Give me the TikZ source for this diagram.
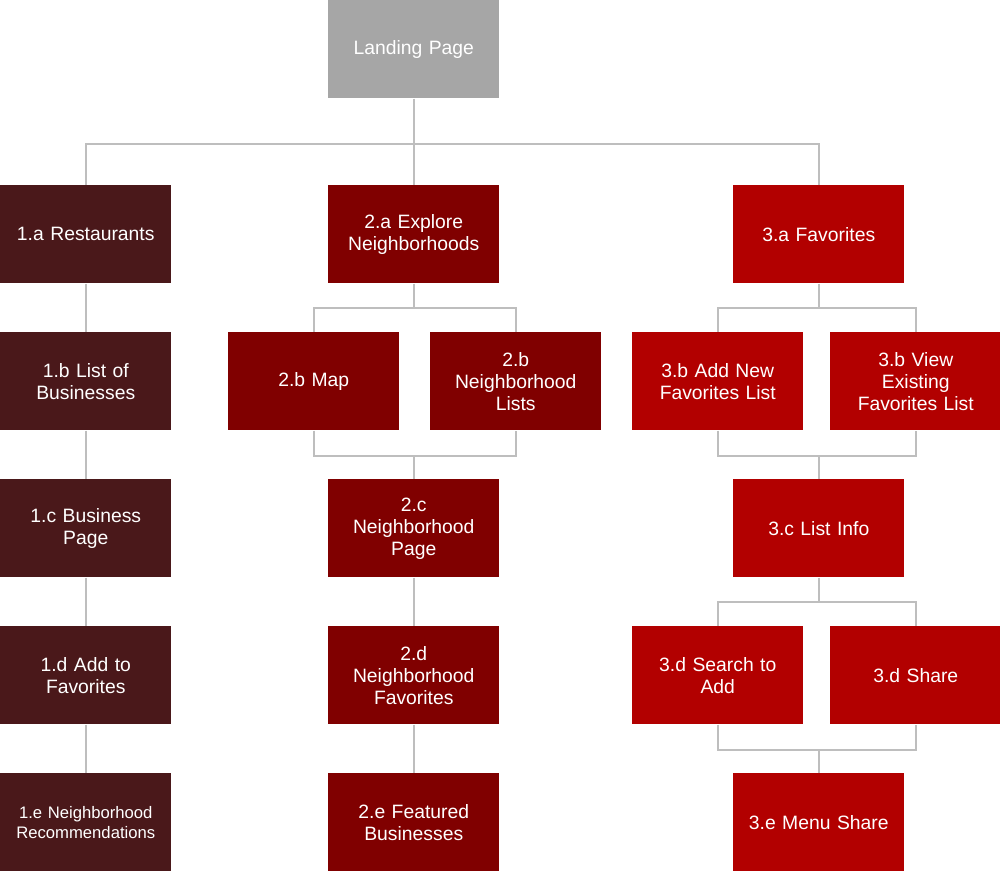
\documentclass[tikz,border=0pt]{standalone}
\usepackage{fontspec}
\setmainfont{Liberation Sans}
\begin{document}
\begin{tikzpicture}[x=0.75pt,y=-0.75pt,
  box/.style={anchor=north west,minimum width=128.25pt,minimum height=73.5pt,inner sep=0pt,text=white,align=center,text width=120pt,font=\fontsize{14.5}{16.5}\selectfont},
  gbox/.style={box,fill=gray!70},
  c1/.style={box,fill={rgb,255:red,74;green,24;blue,26}},
  c2/.style={box,fill={rgb,255:red,128;green,0;blue,0}},
  c3/.style={box,fill={rgb,255:red,178;green,0;blue,0}},
  ln/.style={draw={rgb,255:red,190;green,190;blue,190},line width=1.5pt}]
\useasboundingbox (0,0) rectangle (1000,872);
\node[gbox] (L) at (328,0) {Landing Page};
\node[c1] (a1) at (0,185) {1.a Restaurants};
\node[c1] (b1) at (0,332) {1.b List of\\Businesses};
\node[c1] (cc1) at (0,479) {1.c Business\\Page};
\node[c1] (d1) at (0,626) {1.d Add to\\Favorites};
\node[c1,font=\fontsize{12.5}{15}\selectfont] (e1) at (0,773) {1.e Neighborhood\\Recommendations};
\node[c2] (a2) at (328,185) {2.a Explore\\Neighborhoods};
\node[c2] (b2m) at (228,332) {2.b Map};
\node[c2] (b2n) at (430,332) {2.b\\Neighborhood\\Lists};
\node[c2] (cc2) at (328,479) {2.c\\Neighborhood\\Page};
\node[c2] (d2) at (328,626) {2.d\\Neighborhood\\Favorites};
\node[c2] (e2) at (328,773) {2.e Featured\\Businesses};
\node[c3] (a3) at (733,185) {3.a Favorites};
\node[c3] (b3a) at (632,332) {3.b Add New\\Favorites List};
\node[c3] (b3v) at (830,332) {3.b View\\Existing\\Favorites List};
\node[c3] (cc3) at (733,479) {3.c List Info};
\node[c3] (d3s) at (632,626) {3.d Search to\\Add};
\node[c3] (d3h) at (830,626) {3.d Share};
\node[c3] (e3) at (733,773) {3.e Menu Share};
\begin{scope}[on background layer/.style={}]
\draw[ln] (L.south) -- ++(0,45) coordinate (h);
\draw[ln] (h) -| (a1.north);
\draw[ln] (h) -| (a3.north);
\draw[ln] (h) -- (a2.north);
\draw[ln] (a1) -- (b1); \draw[ln] (b1) -- (cc1); \draw[ln] (cc1) -- (d1); \draw[ln] (d1) -- (e1);
\draw[ln] (a2.south) -- ++(0,24) coordinate (h2);
\draw[ln] (h2) -| (b2m.north); \draw[ln] (h2) -| (b2n.north);
\draw[ln] (b2m.south) -- ++(0,25) -| (b2n.south);
\draw[ln] (cc2.north) -- ++(0,-24);
\draw[ln] (cc2) -- (d2); \draw[ln] (d2) -- (e2);
\draw[ln] (a3.south) -- ++(0,24) coordinate (h3);
\draw[ln] (h3) -| (b3a.north); \draw[ln] (h3) -| (b3v.north);
\draw[ln] (b3a.south) -- ++(0,25) -| (b3v.south);
\draw[ln] (cc3.north) -- ++(0,-24);
\draw[ln] (cc3.south) -- ++(0,24) coordinate (h4);
\draw[ln] (h4) -| (d3s.north); \draw[ln] (h4) -| (d3h.north);
\draw[ln] (d3s.south) -- ++(0,25) -| (d3h.south);
\draw[ln] (e3.north) -- ++(0,-24);
\end{scope}
\end{tikzpicture}
\end{document}
